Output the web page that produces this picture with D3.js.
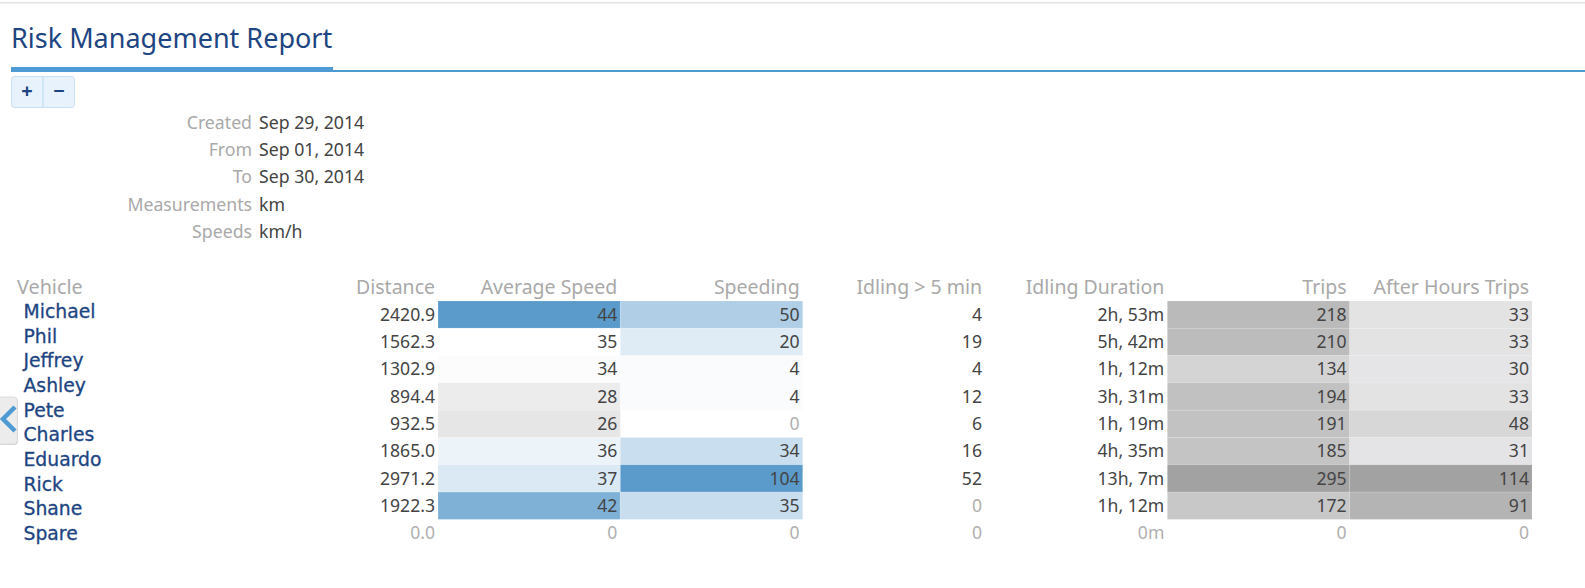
<!DOCTYPE html>
<html>
<head>
<meta charset="utf-8">
<script src="https://cdn.jsdelivr.net/npm/d3@7"></script>
<style>
  html, body { margin: 0; padding: 0; background: #fff; overflow: hidden; }
  text { font-family: "Noto Sans", "Open Sans", sans-serif; }
</style>
</head>
<body>
<div id="report"></div>
<script>
var svgWidth = 1585;
var svgHeight = 588;

var metaLabels = ["Created", "From", "To", "Measurements", "Speeds"];
var metaValues = ["Sep 29, 2014", "Sep 01, 2014", "Sep 30, 2014", "km", "km/h"];

var vehicles = ["Michael", "Phil", "Jeffrey", "Ashley", "Pete", "Charles", "Eduardo", "Rick", "Shane", "Spare"];
var columns = ["Distance", "Average Speed", "Speeding", "Idling > 5 min", "Idling Duration", "Trips", "After Hours Trips"];

var distance = [2420.9, 1562.3, 1302.9, 894.4, 932.5, 1865.0, 2971.2, 1922.3, 0.0];
var averageSpeed = [44, 35, 34, 28, 26, 36, 37, 42, 0];
var speeding = [50, 20, 4, 4, 0, 34, 104, 35, 0];
var idlingOver5 = [4, 19, 4, 12, 6, 16, 52, 0, 0];
var idlingDuration = ["2h, 53m", "5h, 42m", "1h, 12m", "3h, 31m", "1h, 19m", "4h, 35m", "13h, 7m", "1h, 12m", "0m"];
var trips = [218, 210, 134, 194, 191, 185, 295, 172, 0];
var afterHours = [33, 33, 30, 33, 48, 31, 114, 91, 0];

var svg = d3.select("#report")
  .append("svg")
  .attr("width", svgWidth)
  .attr("height", svgHeight);

// header
svg.append("rect").attr("x", 0).attr("y", 2).attr("width", svgWidth).attr("height", 1.5).attr("fill", "#e2e2e2");
svg.append("text")
  .attr("x", 11).attr("y", 48)
  .attr("font-size", 27)
  .attr("fill", "#1d4582")
  .text("Risk Management Report");
svg.append("rect").attr("x", 11).attr("y", 70).attr("width", svgWidth - 11).attr("height", 2).attr("fill", "#4e9bd3");
svg.append("rect").attr("x", 11).attr("y", 67).attr("width", 322).attr("height", 5).attr("fill", "#4e9bd3");

// zoom buttons
svg.append("rect")
  .attr("x", 11.5).attr("y", 76.5).attr("width", 63).attr("height", 31).attr("rx", 3)
  .attr("fill", "#e8f2fc").attr("stroke", "#c9e0f3");
svg.append("line")
  .attr("x1", 43).attr("x2", 43).attr("y1", 77).attr("y2", 107)
  .attr("stroke", "#c9e0f3").attr("stroke-width", 1.5);
svg.selectAll(".zoomBtn")
  .data(["+", "\u2212"])
  .enter()
  .append("text")
  .attr("x", (d, i) => 27 + i * 32)
  .attr("y", 98)
  .attr("text-anchor", "middle")
  .attr("font-size", 20)
  .attr("font-weight", 700)
  .attr("fill", "#1d4582")
  .text(d => d);

// report details
var metaY = d3.scalePoint().domain(metaLabels).range([122.7, 231.7]);
svg.selectAll(".metaLabel")
  .data(metaLabels)
  .enter()
  .append("text")
  .attr("x", 252)
  .attr("y", d => metaY(d))
  .attr("dy", "0.35em")
  .attr("text-anchor", "end")
  .attr("font-size", 17.7)
  .attr("fill", "#a9a9a9")
  .text(d => d);
svg.selectAll(".metaValue")
  .data(metaValues)
  .enter()
  .append("text")
  .attr("x", 259)
  .attr("y", (d, i) => metaY(metaLabels[i]))
  .attr("dy", "0.35em")
  .attr("font-size", 17.7)
  .attr("fill", "#444")
  .text(d => d);

// table scales
var xScale = d3.scaleBand().domain(columns).range([255.7, 1532]);
var rowIndex = d3.range(distance.length);
var yScale = d3.scaleBand().domain(rowIndex).range([301, 546.7]);
var nameY = d3.scalePoint().domain(vehicles).range([311.5, 533.5]);

var avgColor = d3.scaleLinear().domain([26, 35, 44]).range(["#e6e6e6", "#ffffff", "#5b9bcc"]);
var speedColor = d3.scaleLinear().domain([0, d3.max(speeding)]).range(["#ffffff", "#5b9bcc"]);
var tripColor = d3.scaleLinear().domain([0, d3.max(trips)]).range(["#fdfdff", "#a2a2a2"]);
var afterColor = d3.scaleLinear().domain([0, d3.max(afterHours)]).range(["#fdfdff", "#a2a2a2"]);

var tableColumns = [
  { name: columns[0], values: distance, format: d3.format(".1f") },
  { name: columns[1], values: averageSpeed, color: avgColor },
  { name: columns[2], values: speeding, color: speedColor },
  { name: columns[3], values: idlingOver5 },
  { name: columns[4], values: idlingDuration, zero: "0m" },
  { name: columns[5], values: trips, color: tripColor },
  { name: columns[6], values: afterHours, color: afterColor }
];

// vehicle names
svg.append("text")
  .attr("x", 17).attr("y", 287)
  .attr("dy", "0.35em")
  .attr("font-size", 19.8)
  .attr("fill", "#a9a9a9")
  .text("Vehicle");
svg.selectAll(".vehicle")
  .data(vehicles)
  .enter()
  .append("text")
  .attr("x", 23.5)
  .attr("y", d => nameY(d))
  .attr("dy", "0.35em")
  .attr("font-size", 18.8)
  .style("font-family", "'DejaVu Sans', sans-serif")
  .attr("fill", "#1d4582")
  .attr("stroke", "#1d4582")
  .attr("stroke-width", 0.3)
  .text(d => d);

// column headers
svg.selectAll(".colHead")
  .data(columns)
  .enter()
  .append("text")
  .attr("x", d => xScale(d) + xScale.bandwidth() - 3)
  .attr("y", 287)
  .attr("dy", "0.35em")
  .attr("text-anchor", "end")
  .attr("font-size", 19.5)
  .attr("fill", "#a9a9a9")
  .text(d => d);

// cells
tableColumns.forEach(function(col) {
  var g = svg.append("g");
  if (col.color) {
    g.selectAll("rect")
      .data(rowIndex.filter(i => col.values[i] > 0))
      .enter()
      .append("rect")
      .attr("x", xScale(col.name))
      .attr("y", i => yScale(i))
      .attr("width", xScale.bandwidth())
      .attr("height", yScale.bandwidth())
      .attr("fill", i => col.color(col.values[i]))
      .attr("stroke", "#fff")
      .attr("stroke-opacity", 0.12);
  }
  g.selectAll("text")
    .data(col.values)
    .enter()
    .append("text")
    .attr("x", xScale(col.name) + xScale.bandwidth() - 3)
    .attr("y", (d, i) => yScale(i) + yScale.bandwidth() / 2)
    .attr("dy", "0.35em")
    .attr("text-anchor", "end")
    .attr("font-size", 17.6)
    .attr("fill", d => (d === 0 || d === col.zero) ? "#b0b0b0" : "#444")
    .text(d => col.format ? col.format(d) : d);
});

// side tab
svg.append("rect")
  .attr("x", -8).attr("y", 398).attr("width", 26).attr("height", 47).attr("rx", 4)
  .attr("fill", "#d4d4d4");
svg.append("rect")
  .attr("x", -8).attr("y", 397).attr("width", 25.5).attr("height", 47).attr("rx", 4)
  .attr("fill", "#ececec").attr("stroke", "#dcdcdc");
svg.append("path")
  .attr("d", d3.line()([[15, 407], [3, 419], [15, 431]]))
  .attr("fill", "none").attr("stroke", "#4e9bd3").attr("stroke-width", 4.5);
</script>
</body>
</html>
